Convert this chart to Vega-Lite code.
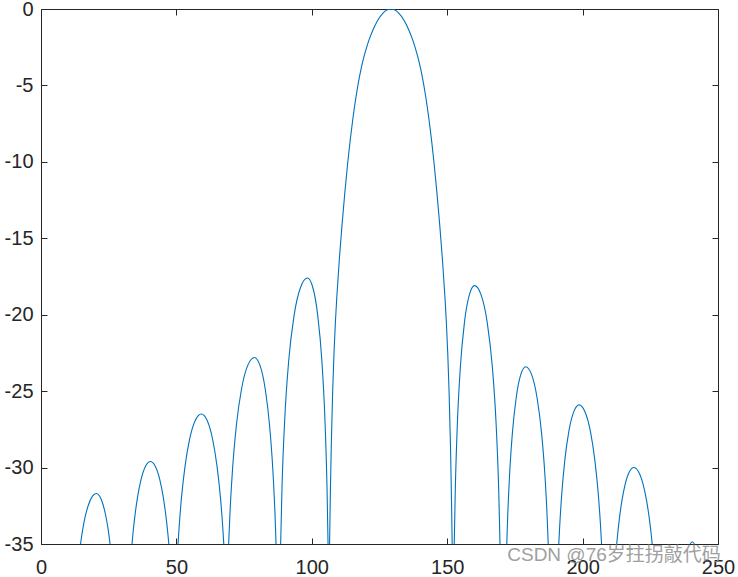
{
  "$schema": "https://vega.github.io/schema/vega-lite/v6.json",
  "description": "Beam pattern in dB, clipped at -35",
  "width": 677,
  "height": 535,
  "autosize": {"type": "none"},
  "padding": {"left": 41, "top": 9, "right": 20, "bottom": 33},
  "background": "white",
  "config": {
    "view": {"stroke": null},
    "axis": {
      "grid": false,
      "domainColor": "#262626",
      "domainWidth": 1,
      "tickColor": "#262626",
      "tickWidth": 1,
      "tickSize": -6,
      "labelColor": "#262626",
      "labelFont": "Liberation Sans",
      "labelFontSize": 20,
      "labelExpr": "'' + datum.value",
      "title": null
    }
  },
  "datasets": {
    "pattern": [
      {"lobe": "L1", "x": 14.6, "db": -35}, {"lobe": "L1", "x": 14.89, "db": -34.63}, {"lobe": "L1", "x": 15.47, "db": -33.98}, {"lobe": "L1", "x": 16.34, "db": -33.2}, {"lobe": "L1", "x": 17.5, "db": -32.45}, {"lobe": "L1", "x": 18.95, "db": -31.88}, {"lobe": "L1", "x": 20.4, "db": -31.7}, {"lobe": "L1", "x": 21.68, "db": -31.88}, {"lobe": "L1", "x": 22.95, "db": -32.45}, {"lobe": "L1", "x": 23.97, "db": -33.2}, {"lobe": "L1", "x": 24.74, "db": -33.98}, {"lobe": "L1", "x": 25.25, "db": -34.63}, {"lobe": "L1", "x": 25.5, "db": -35},
      {"lobe": "L2", "x": 33.6, "db": -35}, {"lobe": "L2", "x": 33.94, "db": -34.35}, {"lobe": "L2", "x": 34.62, "db": -33.24}, {"lobe": "L2", "x": 35.64, "db": -31.95}, {"lobe": "L2", "x": 37.0, "db": -30.74}, {"lobe": "L2", "x": 38.7, "db": -29.88}, {"lobe": "L2", "x": 40.4, "db": -29.6}, {"lobe": "L2", "x": 42.1, "db": -29.88}, {"lobe": "L2", "x": 43.8, "db": -30.74}, {"lobe": "L2", "x": 45.16, "db": -31.95}, {"lobe": "L2", "x": 46.18, "db": -33.24}, {"lobe": "L2", "x": 46.86, "db": -34.35}, {"lobe": "L2", "x": 47.2, "db": -35},
      {"lobe": "L3", "x": 50.6, "db": -35}, {"lobe": "L3", "x": 51.03, "db": -33.84}, {"lobe": "L3", "x": 51.89, "db": -31.95}, {"lobe": "L3", "x": 53.18, "db": -29.92}, {"lobe": "L3", "x": 54.9, "db": -28.13}, {"lobe": "L3", "x": 57.05, "db": -26.89}, {"lobe": "L3", "x": 59.2, "db": -26.5}, {"lobe": "L3", "x": 61.28, "db": -26.89}, {"lobe": "L3", "x": 63.35, "db": -28.13}, {"lobe": "L3", "x": 65.01, "db": -29.92}, {"lobe": "L3", "x": 66.26, "db": -31.95}, {"lobe": "L3", "x": 67.09, "db": -33.84}, {"lobe": "L3", "x": 67.5, "db": -35},
      {"lobe": "L4", "x": 69.3, "db": -35}, {"lobe": "L4", "x": 69.78, "db": -33.0}, {"lobe": "L4", "x": 70.73, "db": -30.11}, {"lobe": "L4", "x": 72.15, "db": -27.23}, {"lobe": "L4", "x": 74.05, "db": -24.86}, {"lobe": "L4", "x": 76.43, "db": -23.28}, {"lobe": "L4", "x": 78.8, "db": -22.8}, {"lobe": "L4", "x": 80.8, "db": -23.28}, {"lobe": "L4", "x": 82.8, "db": -24.86}, {"lobe": "L4", "x": 84.4, "db": -27.23}, {"lobe": "L4", "x": 85.6, "db": -30.11}, {"lobe": "L4", "x": 86.4, "db": -33.0}, {"lobe": "L4", "x": 86.8, "db": -35},
      {"lobe": "L5", "x": 88.5, "db": -35}, {"lobe": "L5", "x": 88.99, "db": -31.34}, {"lobe": "L5", "x": 89.99, "db": -26.89}, {"lobe": "L5", "x": 91.47, "db": -23.01}, {"lobe": "L5", "x": 93.45, "db": -20.06}, {"lobe": "L5", "x": 95.93, "db": -18.17}, {"lobe": "L5", "x": 98.4, "db": -17.6}, {"lobe": "L5", "x": 100.3, "db": -18.17}, {"lobe": "L5", "x": 102.2, "db": -20.06}, {"lobe": "L5", "x": 103.72, "db": -23.01}, {"lobe": "L5", "x": 104.86, "db": -26.89}, {"lobe": "L5", "x": 105.62, "db": -31.34}, {"lobe": "L5", "x": 106.0, "db": -35},
      {"lobe": "M", "x": 106.56, "db": -35}, {"lobe": "M", "x": 106.9, "db": -31.21}, {"lobe": "M", "x": 107.2, "db": -28.51}, {"lobe": "M", "x": 107.7, "db": -25.06}, {"lobe": "M", "x": 108.2, "db": -22.51}, {"lobe": "M", "x": 108.7, "db": -20.54}, {"lobe": "M", "x": 109.2, "db": -18.94}, {"lobe": "M", "x": 110.2, "db": -16.29}, {"lobe": "M", "x": 111.2, "db": -14.04}, {"lobe": "M", "x": 112.2, "db": -12.01}, {"lobe": "M", "x": 113.2, "db": -10.17}, {"lobe": "M", "x": 114.2, "db": -8.55}, {"lobe": "M", "x": 115.2, "db": -7.13}, {"lobe": "M", "x": 116.2, "db": -5.89}, {"lobe": "M", "x": 117.2, "db": -4.82}, {"lobe": "M", "x": 118.2, "db": -3.92}, {"lobe": "M", "x": 119.2, "db": -3.17}, {"lobe": "M", "x": 120.2, "db": -2.54}, {"lobe": "M", "x": 121.2, "db": -1.99}, {"lobe": "M", "x": 122.7, "db": -1.32}, {"lobe": "M", "x": 124.2, "db": -0.78}, {"lobe": "M", "x": 126.2, "db": -0.28}, {"lobe": "M", "x": 127.7, "db": -0.07}, {"lobe": "M", "x": 129.2, "db": 0},
      {"lobe": "M", "x": 130.7, "db": -0.07}, {"lobe": "M", "x": 132.2, "db": -0.28}, {"lobe": "M", "x": 134.2, "db": -0.78}, {"lobe": "M", "x": 135.7, "db": -1.32}, {"lobe": "M", "x": 137.2, "db": -1.99}, {"lobe": "M", "x": 138.2, "db": -2.54}, {"lobe": "M", "x": 139.2, "db": -3.17}, {"lobe": "M", "x": 140.2, "db": -3.92}, {"lobe": "M", "x": 141.2, "db": -4.82}, {"lobe": "M", "x": 142.2, "db": -5.89}, {"lobe": "M", "x": 143.2, "db": -7.13}, {"lobe": "M", "x": 144.2, "db": -8.55}, {"lobe": "M", "x": 145.2, "db": -10.17}, {"lobe": "M", "x": 146.2, "db": -12.01}, {"lobe": "M", "x": 147.2, "db": -14.04}, {"lobe": "M", "x": 148.2, "db": -16.29}, {"lobe": "M", "x": 149.2, "db": -18.94}, {"lobe": "M", "x": 149.7, "db": -20.54}, {"lobe": "M", "x": 150.2, "db": -22.51}, {"lobe": "M", "x": 150.7, "db": -25.06}, {"lobe": "M", "x": 151.2, "db": -28.51}, {"lobe": "M", "x": 151.5, "db": -31.21}, {"lobe": "M", "x": 151.84, "db": -35},
      {"lobe": "R1", "x": 152.6, "db": -35}, {"lobe": "R1", "x": 152.98, "db": -31.53}, {"lobe": "R1", "x": 153.73, "db": -27.23}, {"lobe": "R1", "x": 154.85, "db": -23.44}, {"lobe": "R1", "x": 156.35, "db": -20.53}, {"lobe": "R1", "x": 158.23, "db": -18.67}, {"lobe": "R1", "x": 160.1, "db": -18.1}, {"lobe": "R1", "x": 162.45, "db": -18.67}, {"lobe": "R1", "x": 164.8, "db": -20.53}, {"lobe": "R1", "x": 166.68, "db": -23.44}, {"lobe": "R1", "x": 168.09, "db": -27.23}, {"lobe": "R1", "x": 169.03, "db": -31.53}, {"lobe": "R1", "x": 169.5, "db": -35},
      {"lobe": "R2", "x": 172.0, "db": -35}, {"lobe": "R2", "x": 172.35, "db": -33.15}, {"lobe": "R2", "x": 173.05, "db": -30.42}, {"lobe": "R2", "x": 174.1, "db": -27.68}, {"lobe": "R2", "x": 175.5, "db": -25.4}, {"lobe": "R2", "x": 177.25, "db": -23.87}, {"lobe": "R2", "x": 179.0, "db": -23.4}, {"lobe": "R2", "x": 181.08, "db": -23.87}, {"lobe": "R2", "x": 183.15, "db": -25.4}, {"lobe": "R2", "x": 184.81, "db": -27.68}, {"lobe": "R2", "x": 186.06, "db": -30.42}, {"lobe": "R2", "x": 186.89, "db": -33.15}, {"lobe": "R2", "x": 187.3, "db": -35},
      {"lobe": "R3", "x": 191.2, "db": -35}, {"lobe": "R3", "x": 191.58, "db": -33.71}, {"lobe": "R3", "x": 192.33, "db": -31.67}, {"lobe": "R3", "x": 193.45, "db": -29.5}, {"lobe": "R3", "x": 194.95, "db": -27.6}, {"lobe": "R3", "x": 196.83, "db": -26.31}, {"lobe": "R3", "x": 198.7, "db": -25.9}, {"lobe": "R3", "x": 200.78, "db": -26.31}, {"lobe": "R3", "x": 202.85, "db": -27.6}, {"lobe": "R3", "x": 204.51, "db": -29.5}, {"lobe": "R3", "x": 205.76, "db": -31.67}, {"lobe": "R3", "x": 206.59, "db": -33.71}, {"lobe": "R3", "x": 207.0, "db": -35},
      {"lobe": "R4", "x": 212.6, "db": -35}, {"lobe": "R4", "x": 212.92, "db": -34.41}, {"lobe": "R4", "x": 213.55, "db": -33.39}, {"lobe": "R4", "x": 214.49, "db": -32.2}, {"lobe": "R4", "x": 215.75, "db": -31.07}, {"lobe": "R4", "x": 217.33, "db": -30.26}, {"lobe": "R4", "x": 218.9, "db": -30.0}, {"lobe": "R4", "x": 220.6, "db": -30.26}, {"lobe": "R4", "x": 222.3, "db": -31.07}, {"lobe": "R4", "x": 223.66, "db": -32.2}, {"lobe": "R4", "x": 224.68, "db": -33.39}, {"lobe": "R4", "x": 225.36, "db": -34.41}, {"lobe": "R4", "x": 225.7, "db": -35},
      {"lobe": "R5", "x": 239.7, "db": -35}, {"lobe": "R5", "x": 240.5, "db": -34.85}, {"lobe": "R5", "x": 241.3, "db": -35}
    ],
    "watermark": [
      {"text": "CSDN @76岁拄拐敲代码", "x": 211.6, "db": -35.75}
    ]
  },
  "layer": [
    {
      "data": {"name": "pattern"},
      "mark": {"type": "line", "color": "#0072BD", "strokeWidth": 1.1, "clip": true, "interpolate": "monotone"},
      "encoding": {
        "x": {
          "field": "x", "type": "quantitative",
          "scale": {"domain": [0, 250], "nice": false, "zero": false},
          "axis": {"orient": "bottom", "values": [0, 50, 100, 150, 200, 250], "labelPadding": 19, "labelFlush": false}
        },
        "y": {
          "field": "db", "type": "quantitative",
          "scale": {"domain": [-35, 0], "nice": false, "zero": false},
          "axis": {"orient": "left", "values": [0, -5, -10, -15, -20, -25, -30, -35], "labelPadding": 14, "labelFlush": false}
        },
        "detail": {"field": "lobe"}
      }
    },
    {
      "data": {"name": "pattern"},
      "mark": {"type": "line", "opacity": 0},
      "encoding": {
        "x": {
          "field": "x", "type": "quantitative",
          "scale": {"domain": [0, 250], "nice": false, "zero": false},
          "axis": {"orient": "top", "values": [0, 50, 100, 150, 200, 250], "labels": false}
        },
        "y": {
          "field": "db", "type": "quantitative",
          "scale": {"domain": [-35, 0], "nice": false, "zero": false},
          "axis": {"orient": "right", "values": [0, -5, -10, -15, -20, -25, -30, -35], "labels": false}
        },
        "detail": {"field": "lobe"}
      }
    },
    {
      "data": {"name": "watermark"},
      "mark": {"type": "text", "font": "Liberation Sans, Noto Sans CJK SC", "fontSize": 19, "color": "#8f8f8f", "opacity": 0.85, "align": "center", "baseline": "middle", "clip": false},
      "encoding": {
        "x": {"field": "x", "type": "quantitative", "axis": null},
        "y": {"field": "db", "type": "quantitative", "axis": null},
        "text": {"field": "text"}
      }
    }
  ],
  "resolve": {"axis": {"x": "independent", "y": "independent"}}
}
